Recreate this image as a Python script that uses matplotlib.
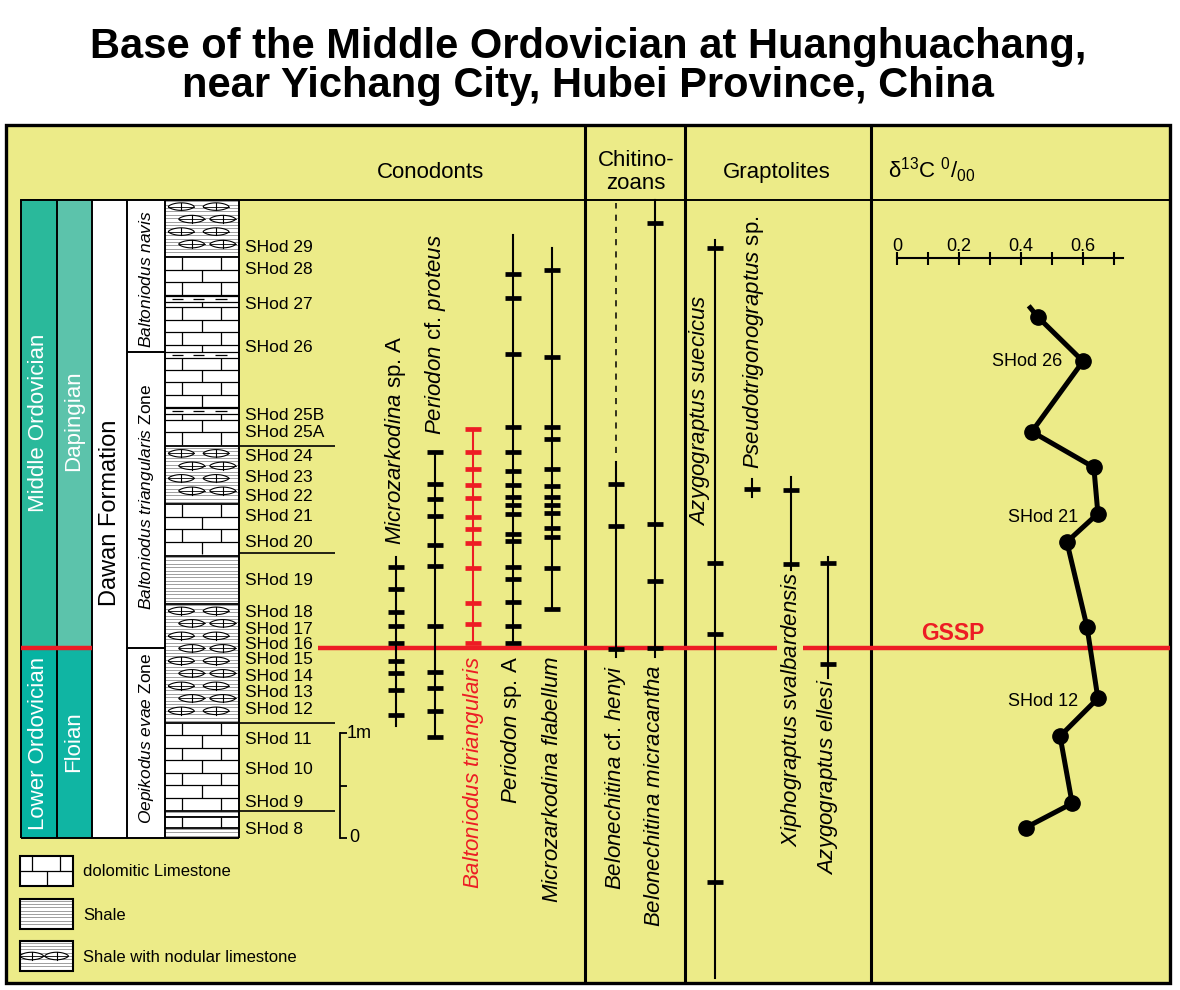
import matplotlib
matplotlib.use("Agg")
import matplotlib.pyplot as plt
import numpy as np
from matplotlib.patches import Polygon, Rectangle
from matplotlib.transforms import blended_transform_factory

plt.rcParams["font.family"] = ["Liberation Sans", "DejaVu Sans"]
plt.rcParams["mathtext.fontset"] = "custom"
plt.rcParams["mathtext.rm"] = "Liberation Sans"
plt.rcParams["mathtext.it"] = "Liberation Sans:italic"

# ---------------- data (heights in m above base of measured section) ----------------
sample_names = ["SHod 29", "SHod 28", "SHod 27", "SHod 26", "SHod 25B", "SHod 25A", "SHod 24",
                "SHod 23", "SHod 22", "SHod 21", "SHod 20", "SHod 19", "SHod 18", "SHod 17",
                "SHod 16", "SHod 15", "SHod 14", "SHod 13", "SHod 12", "SHod 11", "SHod 10",
                "SHod 9", "SHod 8"]
sample_h = [5.62, 5.41, 5.08, 4.67, 4.02, 3.86, 3.63, 3.43, 3.25, 3.06, 2.81, 2.45, 2.15, 1.99,
            1.84, 1.70, 1.54, 1.39, 1.22, 0.94, 0.65, 0.34, 0.08]

litho_top = [6.08, 5.53, 3.73, 3.18, 2.69, 2.23, 1.10, 0.26, 0.20, 0.10]
litho_base = [5.53, 3.73, 3.18, 2.69, 2.23, 1.10, 0.26, 0.20, 0.10, 0.00]
litho_kind = ["nodular", "limestone", "nodular", "limestone", "shale", "nodular",
              "limestone", "shale", "limestone", "shale"]
shale_band_h = [5.13, 4.60, 4.07]
bed_line_h = [3.73, 2.71, 1.10, 0.26]

section_top = 6.08
gssp_h = 1.81
navis_base_h = 4.63

# conodonts
micro_a_occ = [2.58, 2.37, 2.15, 2.02, 1.86, 1.69, 1.57, 1.41, 1.17]
micro_a_range = [1.07, 2.68]
proteus_occ = [3.68, 3.37, 3.23, 3.07, 2.79, 2.59, 2.02, 1.58, 1.43, 1.21, 0.96]
proteus_range = [0.96, 3.68]
triang_occ = [3.90, 3.68, 3.51, 3.36, 3.24, 3.06, 2.94, 2.81, 2.57, 2.24, 2.04, 1.86]
triang_range = [1.86, 3.90]
periodon_a_occ = [5.37, 5.14, 4.61, 3.91, 3.68, 3.50, 3.36, 3.25, 3.17, 3.09, 2.90, 2.83,
                  2.58, 2.47, 2.25, 2.02, 1.86]
periodon_a_range = [1.86, 5.74]
flab_occ = [5.41, 4.58, 3.91, 3.80, 3.51, 3.35, 3.25, 3.17, 3.10, 2.95, 2.87, 2.57, 2.18]
flab_range = [2.18, 5.62]
# chitinozoans
henyi_occ = [3.37, 2.97, 1.80]
henyi_range = [1.72, 3.58]
henyi_cf_range = [3.67, 6.05]
micracantha_occ = [5.86, 2.99, 2.45, 1.81]
micracantha_range = [1.72, 6.08]
# graptolites
suecicus_occ = [5.62, 2.62, 1.94, -0.42]
suecicus_range = [-1.33, 5.70]
pseudo_occ = [3.32]
pseudo_range = [3.25, 3.42]
xipho_occ = [3.31, 2.61]
xipho_range = [2.55, 3.44]
ellesi_occ = [2.62, 1.66]
ellesi_range = [1.52, 2.68]

taxon_labels = [r"$\mathit{Microzarkodina}$ sp. A", r"$\mathit{Periodon}$ cf. $\mathit{proteus}$",
                r"$\mathit{Baltoniodus\ triangularis}$", r"$\mathit{Periodon}$ sp. A",
                r"$\mathit{Microzarkodina\ flabellum}$", r"$\mathit{Belonechitina}$ cf. $\mathit{henyi}$",
                r"$\mathit{Belonechitina\ micracantha}$", r"$\mathit{Azygograptus\ suecicus}$",
                r"$\mathit{Pseudotrigonograptus}$ sp.", r"$\mathit{Xiphograptus\ svalbardensis}$",
                r"$\mathit{Azygograptus\ ellesi}$"]
taxon_occ = [micro_a_occ, proteus_occ, triang_occ, periodon_a_occ, flab_occ, henyi_occ,
             micracantha_occ, suecicus_occ, pseudo_occ, xipho_occ, ellesi_occ]
taxon_range = [micro_a_range, proteus_range, triang_range, periodon_a_range, flab_range,
               henyi_range, micracantha_range, suecicus_range, pseudo_range, xipho_range,
               ellesi_range]

# carbon isotopes
d13c_h = [5.05, 4.96, 4.54, 3.87, 3.53, 3.09, 2.82, 2.01, 1.33, 0.97, 0.33, 0.10]
d13c_val = [0.43, 0.455, 0.60, 0.435, 0.635, 0.648, 0.548, 0.613, 0.648, 0.526, 0.565, 0.416]
d13c_ticks = [0, 0.1, 0.2, 0.3, 0.4, 0.5, 0.6, 0.7]
d13c_ticklabels = [0, 0.2, 0.4, 0.6]

# ---------------- layout ----------------
W, H = 1180, 990
BASE_PX, PX_PER_M = 838, 105
YELLOW = "#ECEB88"
RED = "#ED1C24"
taxon_x = [396, 435, 473, 513, 552, 616, 655, 715, 752, 791, 828]
label_pos = [(396, 545, "bottom"), (435, 435, "bottom"), (473, 656, "top"), (512, 656, "top"),
             (552, 656, "top"), (615, 665, "top"), (654, 665, "top"), (699, 526, "bottom"),
             (753, 469, "bottom"), (791, 572, "top"), (828, 678, "top")]

fig = plt.figure(figsize=(W / 100, H / 100), dpi=100)
ax = fig.add_axes([0, 0, 1, 1])
ax.set_xlim(0, W)
ax.set_ylim(H, 0)
ax.axis("off")

ylims = (-(H - BASE_PX) / PX_PER_M, BASE_PX / PX_PER_M)
sec = fig.add_axes([0, 0, 1, 1])
sec.set_xlim(0, W)
sec.set_ylim(*ylims)
sec.axis("off")

X0_D, PX_PER_UNIT = 897, 310
dax = fig.add_axes([0, 0, 1, 1])
dax.set_xlim(-X0_D / PX_PER_UNIT, (W - X0_D) / PX_PER_UNIT)
dax.set_ylim(*ylims)
dax.axis("off")


def h2px(h):
    disp = sec.transData.transform((0, h))
    return ax.transData.inverted().transform(disp)[1]


def shale(x0, x1, y0, y1):
    ax.add_patch(Rectangle((x0, y0), x1 - x0, y1 - y0, fc="white", ec="none", zorder=2))
    ax.hlines(np.arange(y0 + 1.5, y1, 3.4), x0, x1, color="#8f8f8f", lw=0.6, zorder=3)


def limestone(x0, x1, y0, y1, row=12.5):
    w = x1 - x0
    ax.add_patch(Rectangle((x0, y0), w, y1 - y0, fc="white", ec="none", zorder=2))
    ys = np.arange(y0, y1 - 2, row)
    ax.hlines(ys[1:], x0, x1, color="black", lw=0.9, zorder=3)
    for i, y in enumerate(ys):
        xs = [x0 + 0.23 * w, x0 + 0.76 * w] if i % 2 == 0 else [x0 + 0.5 * w]
        ax.vlines(xs, y, min(y + row, y1), color="black", lw=0.9, zorder=3)


def lens(cx, cy, w=26, h=7.5):
    t = np.linspace(-1, 1, 31)
    xs = cx + t * w / 2
    half = h / 2 * (1 - t ** 2) ** 0.7
    pts = np.column_stack([np.r_[xs, xs[::-1]], np.r_[cy - half, (cy + half)[::-1]]])
    ax.add_patch(Polygon(pts, closed=True, fc="white", ec="black", lw=0.8, zorder=4))
    ax.plot([cx - w / 2, cx + w / 2], [cy, cy], color="black", lw=0.6, zorder=5)
    ax.plot([cx, cx], [cy - h / 2, cy + h / 2], color="black", lw=0.8, zorder=5)


def nodular(x0, x1, y0, y1, first=7, step=12.5):
    shale(x0, x1, y0, y1)
    w = x1 - x0
    for i, y in enumerate(np.arange(y0 + first, y1 - 3, step)):
        cxs = [x0 + 0.22 * w, x0 + 0.69 * w] if i % 2 == 0 else [x0 + 0.36 * w, x0 + 0.78 * w]
        for cx in cxs:
            lens(cx, y, w=min(26, 0.45 * w))


# ---------------- frame ----------------
ax.add_patch(Rectangle((6, 125), 1164, 858, fc=YELLOW, ec="black", lw=2.4, zorder=0))
ax.plot([21, 1170], [200, 200], color="black", lw=1.4, zorder=1)
ax.vlines([585, 685, 871], 125, 983, color="black", lw=2.2, zorder=6)

ax.text(588, 58, "Base of the Middle Ordovician at Huanghuachang,", ha="center", va="baseline",
        fontsize=30, fontweight="bold")
ax.text(588, 97, "near Yichang City, Hubei Province, China", ha="center", va="baseline",
        fontsize=30, fontweight="bold")

ax.text(431, 178, "Conodonts", ha="center", va="baseline", fontsize=16)
ax.text(636, 166, "Chitino-", ha="center", va="baseline", fontsize=16)
ax.text(636, 189, "zoans", ha="center", va="baseline", fontsize=16)
ax.text(777, 178, "Graptolites", ha="center", va="baseline", fontsize=16)
ax.text(888, 178, "δ$^{13}$C $^{0}$/$_{00}$", ha="left", va="baseline", fontsize=16)

# ---------------- left columns ----------------
top_px, base_px, gssp_px = h2px(section_top), h2px(0), h2px(gssp_h)
col_edges = [21, 57, 92, 127, 165, 239]
ax.add_patch(Rectangle((21, top_px), 36, gssp_px - top_px, fc="#2AB99B", ec="none", zorder=2))
ax.add_patch(Rectangle((57, top_px), 35, gssp_px - top_px, fc="#5CC3AB", ec="none", zorder=2))
ax.add_patch(Rectangle((21, gssp_px), 36, base_px - gssp_px, fc="#06B3A2", ec="none", zorder=2))
ax.add_patch(Rectangle((57, gssp_px), 35, base_px - gssp_px, fc="#10B5A3", ec="none", zorder=2))
ax.add_patch(Rectangle((92, top_px), 73, base_px - top_px, fc="white", ec="none", zorder=2))

for top, base, kind in zip(litho_top, litho_base, litho_kind):
    y0, y1 = h2px(top), h2px(base)
    if kind == "limestone":
        limestone(165, 239, y0, y1)
    elif kind == "shale":
        shale(165, 239, y0, y1)
    else:
        nodular(165, 239, y0, y1)
for hb in shale_band_h:
    yb = h2px(hb)
    ax.add_patch(Rectangle((165, yb - 3), 74, 6, fc="white", ec="none", zorder=4))
    ax.hlines([yb - 3, yb + 3], 165, 239, color="black", lw=0.9, zorder=5)
    ax.hlines([yb] * 3, [172, 193, 215], [183, 204, 227], color="black", lw=0.9, zorder=5)
ax.hlines([h2px(t) for t in litho_top[1:]], 165, 239, color="black", lw=1.3, zorder=6)

ax.vlines(col_edges, top_px, base_px, color="black", lw=1.4, zorder=6)
ax.hlines([top_px, base_px], 21, 239, color="black", lw=1.4, zorder=6)
ax.hlines([h2px(navis_base_h), gssp_px], 127, 165, color="black", lw=1.4, zorder=6)

ax.text(39, 423, "Middle Ordovician", rotation=90, ha="center", va="center", color="white", fontsize=16, zorder=7)
ax.text(74, 421, "Dapingian", rotation=90, ha="center", va="center", color="white", fontsize=16, zorder=7)
ax.text(39, 743, "Lower Ordovician", rotation=90, ha="center", va="center", color="white", fontsize=16, zorder=7)
ax.text(74, 742, "Floian", rotation=90, ha="center", va="center", color="white", fontsize=16, zorder=7)
ax.text(110, 513, "Dawan Formation", rotation=90, ha="center", va="center", fontsize=17, zorder=7)
ax.text(146, 279, r"$\mathit{Baltoniodus\ navis}$", rotation=90, ha="center", va="center", fontsize=12.5, zorder=7)
ax.text(146, 497, r"$\mathit{Baltoniodus\ triangularis}$ Zone", rotation=90, ha="center", va="center",
        fontsize=12.5, zorder=7)
ax.text(146, 738, r"$\mathit{Oepikodus\ evae}$ Zone", rotation=90, ha="center", va="center", fontsize=12.5, zorder=7)

# legend
legend_names = ["dolomitic Limestone", "Shale", "Shale with nodular limestone"]
legend_y = [856, 899, 941]
limestone(20, 73, 856, 886, row=15)
shale(20, 73, 899, 929)
nodular(20, 73, 941, 971, first=15, step=30)
for y, name in zip(legend_y, legend_names):
    ax.add_patch(Rectangle((20, y), 53, 30, fc="none", ec="black", lw=1.5, zorder=6))
    ax.text(83, y + 16, name, ha="left", va="center", fontsize=12)

# ---------------- section annotations ----------------
for name, h in zip(sample_names, sample_h):
    sec.text(245, h, name, ha="left", va="center", fontsize=12.5)
sec.hlines(bed_line_h, 239, 335, color="black", lw=1.2)
sec.plot([340, 340], [0, 1], color="black", lw=1.3)
sec.hlines([0, 0.5, 1], 340, 347, color="black", lw=1.3)
sec.text(347, 1.0, "1m", ha="left", va="center", fontsize=13)
sec.text(349, 0.0, "0", ha="left", va="center", fontsize=13)

sec.hlines([gssp_h] * 3, [21, 318, 803], [92, 777, 1170], color=RED, lw=3.2, zorder=2)
ax.text(953, 640, "GSSP", ha="center", va="baseline", fontsize=16.5, fontweight="bold", color=RED)

# ---------------- range chart ----------------
for i, (x, occ, rng, lab) in enumerate(zip(taxon_x, taxon_occ, taxon_range, taxon_labels)):
    color = RED if i == 2 else "black"
    sec.plot([x, x], rng, color=color, lw=1.5, zorder=3)
    sec.plot([x] * len(occ), occ, ls="none", marker="_", ms=11, mew=3.4, color=color, zorder=4)
    lx, ly, va = label_pos[i]
    ax.text(lx, ly, lab, rotation=90, ha="center", va=va, fontsize=16, color=color, zorder=7)
sec.plot([taxon_x[5]] * 2, henyi_cf_range, color="black", lw=1.1, ls=(0, (4, 4)), zorder=3)

# ---------------- carbon isotope curve ----------------
bt = blended_transform_factory(dax.transData, ax.transData)
dax.plot([0, 0.73], [258, 258], color="black", lw=1.5, transform=bt)
dax.vlines(d13c_ticks, 252, 265, color="black", lw=1.5, transform=bt)
for v in d13c_ticklabels:
    dax.text(v, 251, f"{v:g}", ha="center", va="baseline", fontsize=13, transform=bt)
dax.plot(d13c_val, d13c_h, color="black", lw=3.6, zorder=3)
dax.plot(d13c_val[1:], d13c_h[1:], ls="none", marker="o", ms=11, color="black", zorder=4)
ax.text(1062, 362, "SHod 26", ha="right", va="center", fontsize=13)
ax.text(1078, 517, "SHod 21", ha="right", va="center", fontsize=13)
ax.text(1078, 701, "SHod 12", ha="right", va="center", fontsize=13)

fig.savefig("out.png", dpi=100, facecolor="white")
